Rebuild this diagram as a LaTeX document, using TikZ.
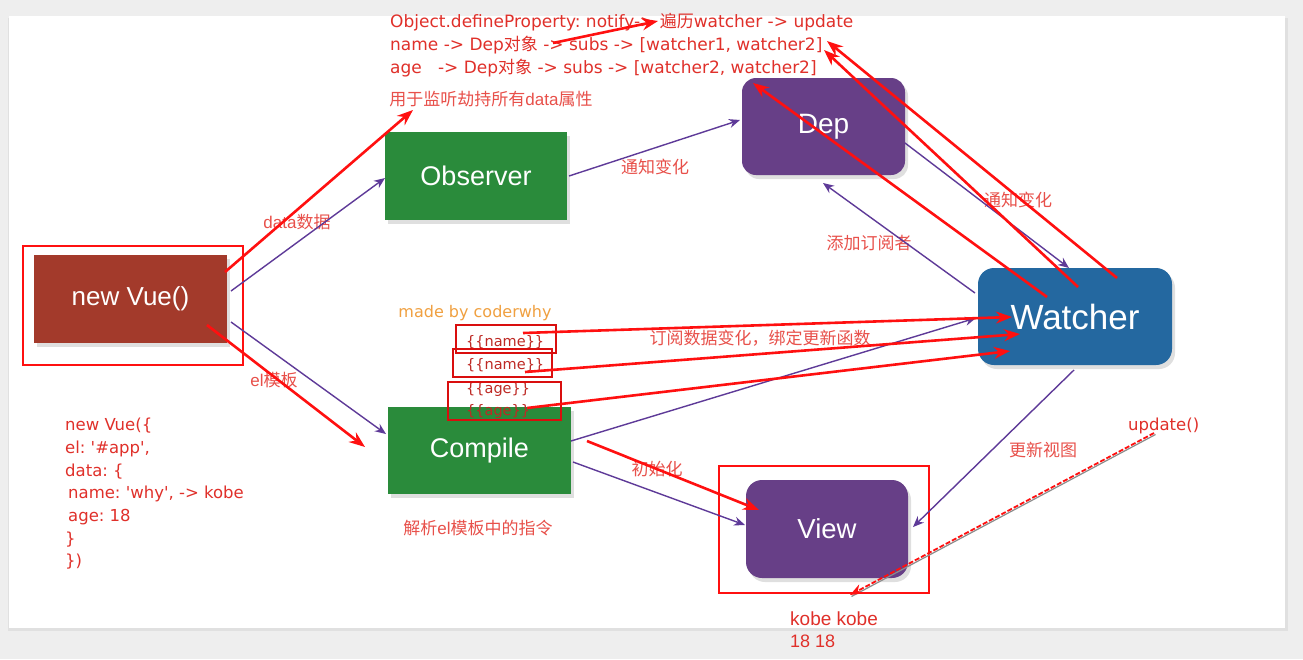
\documentclass[tikz,border=0pt]{standalone}
\usepackage{fontspec}
\setmainfont{Liberation Sans}
\newfontfamily\cjk{Noto Sans CJK SC}
\newfontfamily\dvs{DejaVu Sans}
\usetikzlibrary{arrows.meta,shadows}
\definecolor{bgray}{HTML}{EEEEEE}
\definecolor{vuered}{HTML}{A33A2B}
\definecolor{obsgreen}{HTML}{2A8B3B}
\definecolor{deppurple}{HTML}{673F87}
\definecolor{watblue}{HTML}{2468A0}
\definecolor{linepurple}{HTML}{5E3A98}
\definecolor{annred}{HTML}{FF1010}
\definecolor{labred}{HTML}{E8504A}
\definecolor{txtred}{HTML}{E0302A}
\definecolor{orangetxt}{HTML}{F0A040}
\frenchspacing
\begin{document}
\begin{tikzpicture}[x=1pt,y=-1pt,
  box/.style={inner sep=0pt, text=white, drop shadow={shadow xshift=3pt, shadow yshift=-4pt, opacity=0.25}},
  rbox/.style={draw=annred, line width=1.6pt, inner sep=0pt},
  parrow/.style={draw=linepurple, line width=1.4pt, -{Stealth[length=11pt,width=9pt]}},
  rarrow/.style={draw=annred, line width=2.6pt, -{Stealth[length=16pt,width=12pt]}},
  lab/.style={text=labred, font=\cjk\fontsize{17}{20}\selectfont, inner sep=0pt},
  toptxt/.style={text=txtred, font=\dvs\fontsize{17}{20}\selectfont, inner sep=0pt, anchor=west},
  mustache/.style={text=txtred!85!black, font=\dvs\fontsize{14.5}{17}\selectfont, inner sep=0pt, anchor=west}
]
\useasboundingbox (0,0) rectangle (1303,659);
\fill[bgray] (0,0) rectangle (1303,659);
\fill[black!12] (8,18) rectangle (1288,631);
\fill[white] (9,16) rectangle (1285,628);

% main nodes
\node[box, fill=vuered, minimum width=193pt, minimum height=88pt, font=\fontsize{26}{30}\selectfont] (nv) at (130.5,299) {new Vue()};
\node[box, fill=obsgreen, minimum width=182pt, minimum height=88pt, font=\fontsize{27}{31}\selectfont] (obs) at (476,176) {Observer};
\node[box, fill=obsgreen, minimum width=183pt, minimum height=87pt, font=\fontsize{27}{31}\selectfont] (cmp) at (479.5,450.5) {Compile};
\node[box, fill=deppurple, rounded corners=14pt, minimum width=163pt, minimum height=97pt, font=\fontsize{28}{32}\selectfont] (dep) at (823.5,126.5) {Dep};
\node[box, fill=watblue, rounded corners=16pt, minimum width=194pt, minimum height=97pt, font=\fontsize{35}{40}\selectfont] (wat) at (1075,316.5) {Watcher};
\node[box, fill=deppurple, rounded corners=16pt, minimum width=162pt, minimum height=98pt, font=\fontsize{27.5}{32}\selectfont] (view) at (827,529) {View};

% red outline boxes
\node[rbox, minimum width=220pt, minimum height=119pt] (nvbox) at (133,305.5) {};
\node[rbox, minimum width=210pt, minimum height=127pt] (viewbox) at (824,529.5) {};

% top texts
\node[toptxt] (t1) at (390,22) {Object.defineProperty: notify-> {\cjk 遍历}watcher -> update};
\node[toptxt] (t2) at (390,45) {name -> Dep{\cjk 对象} -> subs -> [watcher1, watcher2]};
\node[toptxt] (t3) at (390,68) {age \ \ -> Dep{\cjk 对象} -> subs -> [watcher2, watcher2]};

% labels
\node[lab] (lobsn) at (491,99) {用于监听劫持所有{\fontspec{Liberation Sans}data}属性};
\node[lab] (ldata) at (297,222) {{\fontspec{Liberation Sans}data}数据};
\node[lab] (lel) at (274,380) {{\fontspec{Liberation Sans}el}模板};
\node[lab] (ln1) at (655,167) {通知变化};
\node[lab] (ln2) at (1018,200) {通知变化};
\node[lab] (ladd) at (869,243) {添加订阅者};
\node[lab] (lsub) at (760,338) {订阅数据变化，绑定更新函数};
\node[lab] (linit) at (657,469) {初始化};
\node[lab] (lupd) at (1043,450) {更新视图};
\node[lab] (lparse) at (478,528) {解析{\fontspec{Liberation Sans}el}模板中的指令};
\node[text=orangetxt, font=\dvs\fontsize{16}{18}\selectfont, inner sep=0pt] (made) at (475,313) {made by coderwhy};
\node[text=txtred, font=\dvs\fontsize{16.5}{18}\selectfont, inner sep=0pt, anchor=west] (updf) at (1128,426) {update()};
\node[text=txtred, font=\fontsize{19}{20}\selectfont, inner sep=0pt, anchor=west] (kb) at (790,619) {kobe kobe};
\node[text=txtred, font=\fontsize{18}{20}\selectfont, inner sep=0pt, anchor=west] (n18) at (790,641) {18 18};

% code
\node[text=txtred, font=\dvs\fontsize{16.5}{22.7}\selectfont, inner sep=0pt, anchor=north west, align=left] (code) at (65,418) {new Vue(\{\\el: \textquotesingle\#app\textquotesingle,\\data: \{\\\hspace{3pt}name: \textquotesingle why\textquotesingle, -> kobe\\\hspace{3pt}age: 18\\\}\\\})};

% mustache texts and boxes
\node[mustache] (m1) at (466,342) {\{\{name\}\}};
\node[mustache] (m2) at (466,365) {\{\{name\}\}};
\node[mustache] (m3) at (466,389) {\{\{age\}\}};
\node[mustache] (m4) at (466,411) {\{\{age\}\}};
\node[draw=annred!85!black, line width=1.6pt, inner sep=0pt, minimum width=100pt, minimum height=28pt] (mb1) at (506,339) {};
\node[draw=annred!85!black, line width=1.6pt, inner sep=0pt, minimum width=99pt, minimum height=28pt] (mb2) at (502.5,363) {};
\node[draw=annred!85!black, line width=1.6pt, inner sep=0pt, minimum width=113pt, minimum height=38pt] (mb3) at (504.5,401) {};

% coordinates
\coordinate (p1s) at (231,291); \coordinate (p1e) at (385,178);
\coordinate (p2s) at (231,322); \coordinate (p2e) at (386,434);
\coordinate (p3s) at (569,176); \coordinate (p3e) at (740,120);
\coordinate (p4s) at (905,143); \coordinate (p4e) at (1069,268);
\coordinate (p5s) at (975,293); \coordinate (p5e) at (823,183);
\coordinate (p6s) at (571,441); \coordinate (p6e) at (976,318);
\coordinate (p7s) at (573,462); \coordinate (p7e) at (745,525);
\coordinate (p8s) at (1074,370); \coordinate (p8e) at (913,527);

\draw[parrow] (p1s) -- (p1e);
\draw[parrow] (p2s) -- (p2e);
\draw[parrow] (p3s) -- (p3e);
\draw[parrow] (p4s) -- (p4e);
\draw[parrow] (p5s) -- (p5e);
\draw[parrow] (p6s) -- (p6e);
\draw[parrow] (p7s) -- (p7e);
\draw[parrow] (p8s) -- (p8e);

% red arrows
\coordinate (r1s) at (225,272); \coordinate (r1e) at (413,110);
\coordinate (r2s) at (207,325); \coordinate (r2e) at (365,447);
\coordinate (r3s) at (523,333); \coordinate (r3e) at (1012,317);
\coordinate (r4s) at (525,372); \coordinate (r4e) at (1020,334);
\coordinate (r5s) at (527,408); \coordinate (r5e) at (1010,351);
\coordinate (r6s) at (587,441); \coordinate (r6e) at (759,510);
\coordinate (r7s) at (1047,297); \coordinate (r7e) at (753,83);
\coordinate (r8s) at (1078,287); \coordinate (r8e) at (824,50);
\coordinate (r9s) at (1117,278); \coordinate (r9e) at (827,41);
\coordinate (r10s) at (553,43); \coordinate (r10e) at (658,21);
\coordinate (r11s) at (1154,433); \coordinate (r11e) at (850,595);

\draw[rarrow] (r1s) -- (r1e);
\draw[rarrow] (r2s) -- (r2e);
\draw[rarrow] (r3s) -- (r3e);
\draw[rarrow] (r4s) -- (r4e);
\draw[rarrow] (r5s) -- (r5e);
\draw[rarrow] (r6s) -- (r6e);
\draw[rarrow] (r7s) -- (r7e);
\draw[rarrow] (r8s) -- (r8e);
\draw[rarrow] (r9s) -- (r9e);
\draw[rarrow] (r10s) -- (r10e);
\draw[black!45, line width=1.2pt] ([shift={(1.5,1.5)}]r11s) -- ([shift={(1.5,1.5)}]r11e);
\draw[annred, line width=1.8pt, dash pattern=on 5pt off 2pt, -{Stealth[length=13pt,width=10pt]}] (r11s) -- (r11e);
\end{tikzpicture}
\end{document}
